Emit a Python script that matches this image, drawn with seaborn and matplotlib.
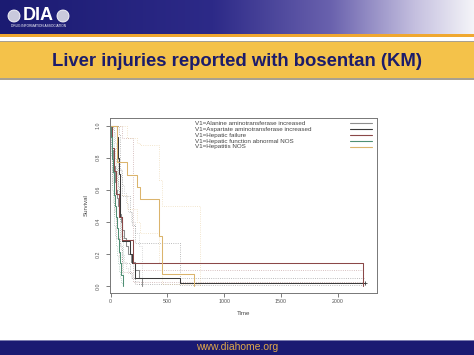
import numpy as np
import pandas as pd
import seaborn as sns
import matplotlib.pyplot as plt
from matplotlib.colors import LinearSegmentedColormap
from matplotlib.patches import Rectangle, Ellipse

sns.set_style('ticks')
plt.rcParams['font.family'] = ['Liberation Sans', 'DejaVu Sans']

title = 'Liver injuries reported with bosentan (KM)'
footer = 'www.diahome.org'

groups = ['V1=Alanine aminotransferase increased',
          'V1=Aspartate aminotransferase increased',
          'V1=Hepatic failure',
          'V1=Hepatic function abnormal NOS',
          'V1=Hepatitis NOS']
colors = ['#8e8e8e', '#3a3a3a', '#8b4848', '#4f8f74', '#dbb46c']

# step times and KM estimates, with rough 95% bands
alt_time = [0, 3, 8, 14, 20, 27, 34, 42, 50, 58, 67, 77, 88, 100, 115, 132, 152, 180, 215, 250, 280]
alt_surv = [1, .95, .90, .85, .80, .75, .70, .65, .60, .55, .50, .45, .40, .35, .30, .25, .20, .15, .10, .05, 0]
alt_up = [1, 1, 1, 1, .99, .96, .93, .89, .86, .82, .77, .73, .68, .63, .58, .52, .46, .40, .33, .25, 0]
alt_lo = [1, .86, .78, .71, .64, .58, .52, .46, .41, .36, .31, .27, .23, .19, .15, .11, .08, .05, .03, .01, 0]

ast_time = [0, 55, 62, 70, 78, 85, 97, 170, 190, 215, 612, 2240]
ast_surv = [1, .93, .80, .70, .57, .43, .28, .20, .14, .047, .02, .02]
ast_up = [1, 1, 1, .95, .85, .72, .56, .46, .38, .27, .05, .05]
ast_lo = [1, .80, .62, .50, .37, .25, .14, .08, .05, .01, .004, .004]

hf_time = [0, 10, 25, 45, 70, 100, 197, 2225]
hf_surv = [1, .857, .714, .571, .429, .286, .143, 0]
hf_up = [1, 1, 1, 1, 1, .92, .10, 0]
hf_lo = [1, .63, .45, .30, .18, .09, .023, 0]

hfa_time = [0, 4, 9, 14, 20, 26, 32, 39, 46, 54, 62, 71, 82, 95, 110]
hfa_surv = [1, .93, .86, .79, .71, .64, .57, .50, .43, .36, .29, .21, .14, .07, 0]
hfa_up = [1, 1, 1, 1, .97, .92, .86, .80, .73, .66, .59, .50, .41, .31, 0]
hfa_lo = [1, .81, .69, .60, .52, .45, .38, .31, .25, .19, .14, .09, .05, .02, 0]

hep_time = [0, 53, 141, 229, 259, 426, 450, 790]
hep_surv = [1, .77, .69, .615, .54, .31, .077, 0]
hep_up = [1, 1, .92, .89, .88, .66, .50, 0]
hep_lo = [1, .57, .48, .40, .33, .14, .012, 0]
hep_end = 738

cens_time = [2240]
cens_surv = [0.02]

times = [alt_time, ast_time, hf_time, hfa_time, hep_time]
survs = [alt_surv, ast_surv, hf_surv, hfa_surv, hep_surv]
ups = [alt_up, ast_up, hf_up, hfa_up, hep_up]
los = [alt_lo, ast_lo, hf_lo, hfa_lo, hep_lo]

rows = []
for g, t, s, u, l in zip(groups, times, survs, ups, los):
    for ti, si, ui, li in zip(t, s, u, l):
        rows.append((g, ti, si, ui, li))
df = pd.DataFrame(rows, columns=['group', 'time', 'surv', 'upper', 'lower'])
# the Hepatitis NOS estimate itself ends earlier than its band
df.loc[(df.group == groups[4]) & (df.time == 790), 'time_s'] = hep_end
df['time_s'] = df['time_s'].fillna(df['time'])
pal = dict(zip(groups, colors))

fig = plt.figure(figsize=(4.74, 3.55), dpi=100)
W, H = 474, 355

# slide header with gradient
hax = fig.add_axes([0, 1 - 34 / H, 1, 34 / H])
cmap = LinearSegmentedColormap.from_list('hdr', [(0, '#1b1b72'), (0.45, '#2d2a88'),
                                                  (0.7, '#6a62ae'), (0.88, '#c6c1e0'), (1, '#f4f4f8')])
hax.imshow(np.linspace(0, 1, 256)[None, :], aspect='auto', cmap=cmap, extent=[0, 1, 0, 1])
hax.axis('off')
fig.add_artist(Rectangle((0, 1 - 36.5 / H), 1, 3 / H, transform=fig.transFigure, color='#f0a830', lw=0))
for cx in [14, 63]:
    fig.add_artist(Ellipse((cx / W, 1 - 16 / H), 12 / W, 12 / H, transform=fig.transFigure,
                           facecolor='#c9c9dc', edgecolor='white', lw=0.6))
fig.text(38.5 / W, 1 - 16 / H, 'DIA', color='white', fontsize=13, fontweight='bold', ha='center', va='center')
fig.text(39 / W, 1 - 26 / H, 'DRUG INFORMATION ASSOCIATION', color='white', fontsize=2.3, ha='center', va='center')

# title band
fig.add_artist(Rectangle((0, 1 - 79 / H), 1, 37 / H, transform=fig.transFigure,
                         facecolor='#f4c24a', edgecolor='none'))
for yy in [41.7, 79]:
    fig.add_artist(Rectangle((0, 1 - (yy + 0.6) / H), 1, 1.2 / H, transform=fig.transFigure, color='#a8a090', lw=0))
fig.text(0.5, 1 - 61 / H, title, color='#1c1c6b', fontsize=13.3, fontweight='bold', ha='center', va='center')

# footer
fig.add_artist(Rectangle((0, 0), 1, 14.5 / H, transform=fig.transFigure, color='#1b1a72', lw=0))
fig.add_artist(Rectangle((0, 14 / H), 1, 1 / H, transform=fig.transFigure, color='#7d7db0', lw=0))
fig.text(0.5, 7.5 / H, footer, color='#e0a84a', fontsize=7.5, ha='center', va='center')

# KM plot
ax = fig.add_axes([110 / W, 62 / H, 267 / W, 175.5 / H])
for col in ['upper', 'lower']:
    sns.lineplot(data=df, x='time', y=col, hue='group', palette=pal, estimator=None, sort=False,
                 drawstyle='steps-post', linestyle=':', linewidth=0.6, alpha=0.45, legend=False, ax=ax)
sns.lineplot(data=df, x='time_s', y='surv', hue='group', palette=pal, estimator=None, sort=False,
             drawstyle='steps-post', linewidth=0.75, legend=False, ax=ax)
sns.scatterplot(x=cens_time, y=cens_surv, marker='+', color=colors[1], s=10, linewidth=0.6, ax=ax)

ax.set_xlim(-6, 2348)
ax.set_ylim(-0.044, 1.05)
ax.set_xticks([0, 500, 1000, 1500, 2000])
ax.set_yticks([0, .2, .4, .6, .8, 1.0])
ax.set_yticklabels(['0.0', '0.2', '0.4', '0.6', '0.8', '1.0'], rotation=90, va='center')
ax.tick_params(direction='out', length=2.6, width=0.6, colors='#666666', labelsize=3.8, labelcolor='#555555')
ax.tick_params(axis='x', pad=2)
ax.tick_params(axis='y', pad=4)
for sp in ax.spines.values():
    sp.set_visible(True)
    sp.set_color('#777777')
    sp.set_linewidth(0.7)
ax.set_xlabel('Time', fontsize=4.4, color='#444444', labelpad=5)
ax.set_ylabel('Survival', fontsize=4.4, color='#444444', labelpad=5)

for i, (g, c) in enumerate(zip(groups, colors)):
    y = 0.966 - i * 0.0335
    ax.text(0.318, y, g, transform=ax.transAxes, fontsize=4.5, va='center', color='#444444')
    ax.plot([0.899, 0.981], [y, y], transform=ax.transAxes, color=c, lw=0.8)

fig.savefig('out.png', dpi=100)
